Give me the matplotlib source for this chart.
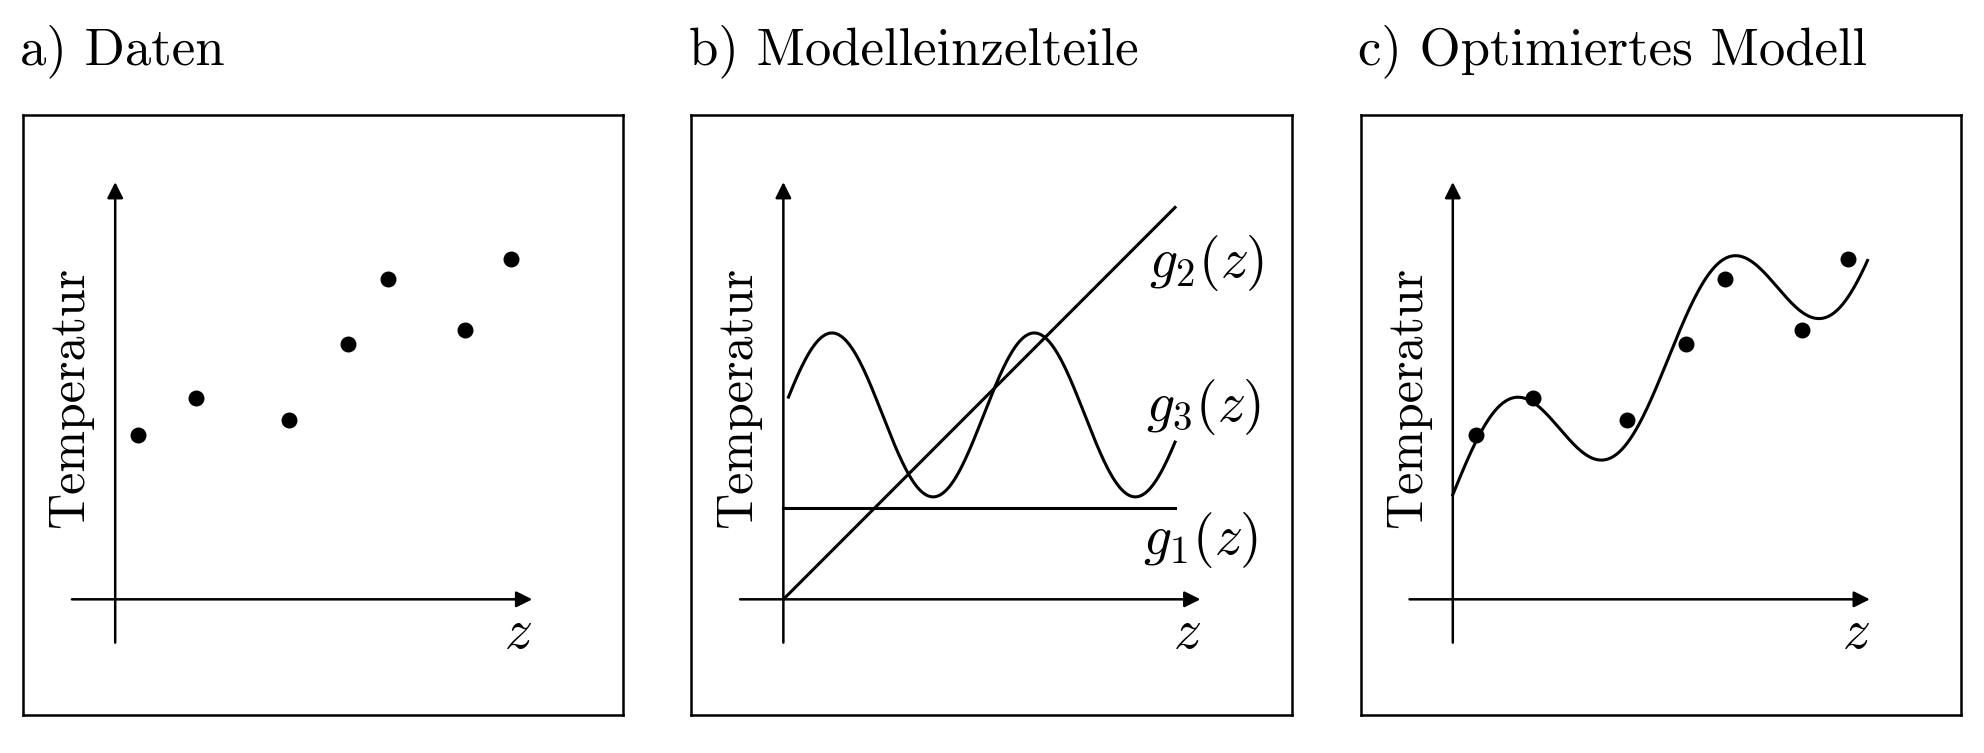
import numpy as np
import matplotlib.pyplot as plt

plt.rcParams['font.family'] = 'cmr10'
plt.rcParams['mathtext.fontset'] = 'cm'
plt.rcParams['axes.formatter.use_mathtext'] = True

# measurement points (same in panel a and c)
z_data = [18, 63, 136, 182, 213, 273, 309]
t_data = [128, 157, 140, 199, 250, 210, 266]

titles = ["a) Daten", "b) Modelleinzelteile", "c) Optimiertes Modell"]
panel_left = [18, 540, 1063]   # in reference pixels (1550 wide)

# model parts in panel b
g1_level = 71
g2_slope = 1.0
g3_center, g3_amp, g3_period, g3_peak = 144, 64, 158, 38
z_b = np.linspace(4, 306, 300)

# fitted model in panel c
fit_offset, fit_slope, fit_amp, fit_period, fit_phase = 79, 0.65, 49, 170, -1.5
z_c = np.linspace(0, 324, 300)

W, H = 1550, 588
fig = plt.figure(figsize=(19.84, 7.53), dpi=100)

axes = []
for i, left in enumerate(panel_left):
    ax = fig.add_axes([left / W, 1 - 558 / H, 469 / W, 468 / H])
    ax.set_xlim(-72, 397)
    ax.set_ylim(-90, 378)
    ax.set_xticks([])
    ax.set_yticks([])
    for s in ax.spines.values():
        s.set_linewidth(1.8)
    ax.annotate("", xy=(328, 0), xytext=(-36, 0),
                arrowprops=dict(arrowstyle="-|>", color="black", lw=1.8, mutation_scale=24))
    ax.annotate("", xy=(0, 328), xytext=(0, -36),
                arrowprops=dict(arrowstyle="-|>", color="black", lw=1.8, mutation_scale=24))
    ax.text(315, -27, "$z$", fontsize=40, ha="center", va="center")
    ax.text(-35, 158, "Temperatur", fontsize=36, rotation=90, ha="center", va="center")
    fig.text((left - 2) / W, 1 - 40 / H, titles[i], fontsize=38, ha="left", va="center")
    axes.append(ax)

# a) data
axes[0].scatter(z_data, t_data, s=110, color="black", zorder=3)

# b) model parts
ax = axes[1]
ax.plot([0, 306], [g1_level, g1_level], color="black", lw=2.2)
ax.plot([0, 306], [0, 306 * g2_slope], color="black", lw=2.2)
ax.plot(z_b, g3_center + g3_amp * np.cos(2 * np.pi * (z_b - g3_peak) / g3_period),
        color="black", lw=2.2)
ax.text(331, 263, "$g_2(z)$", fontsize=40, ha="center", va="center")
ax.text(328, 150, "$g_3(z)$", fontsize=40, ha="center", va="center")
ax.text(326, 46, "$g_1(z)$", fontsize=40, ha="center", va="center")

# c) optimized model
ax = axes[2]
ax.plot(z_c, fit_offset + fit_slope * z_c + fit_amp * np.sin(2 * np.pi * (z_c - fit_phase) / fit_period),
        color="black", lw=2.2)
ax.scatter(z_data, t_data, s=110, color="black", zorder=3)

fig.savefig("out.png", dpi=100)
